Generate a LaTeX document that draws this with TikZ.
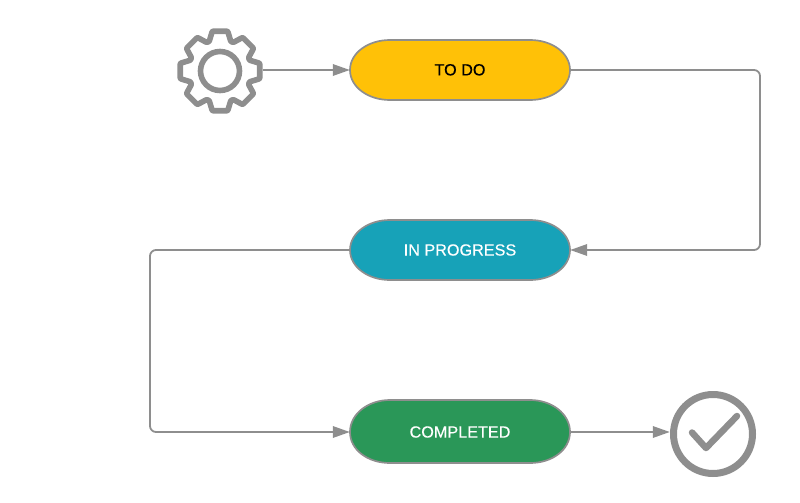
\documentclass[tikz,border=0pt]{standalone}
\usepackage{fontspec}
\setmainfont{Liberation Sans}
\newfontfamily\labelfont[FakeBold=0.25]{Liberation Sans}
\usetikzlibrary{arrows.meta}
\definecolor{linegray}{HTML}{8E8E8E}
\definecolor{todoc}{HTML}{FFC107}
\definecolor{progc}{HTML}{17A2B8}
\definecolor{donec}{HTML}{2A9758}
\tikzset{
  pillshape/.style={draw=linegray, line width=1.7pt},
  pilltext/.style={rectangle, minimum width=220pt, inner sep=0pt, font=\labelfont\fontsize{16.2}{18}\selectfont},
  conn/.style={draw=linegray, line width=1.8pt, rounded corners=6pt,
    -{Triangle[length=17pt,width=11.5pt,fill=linegray]}},
  iconline/.style={draw=linegray, line width=5.6pt, line join=round},
  iconspot/.style={circle, inner sep=0pt, minimum size=86pt}
}
\begin{document}
\begin{tikzpicture}[x=1pt,y=-1pt]
\useasboundingbox (0,0) rectangle (800,503);
\path[pillshape, fill=todoc] (350,70) .. controls (350,53) and (368,40) .. (390,40) -- (530,40)
  .. controls (552,40) and (570,53) .. (570,70) .. controls (570,87) and (552,100) .. (530,100)
  -- (390,100) .. controls (368,100) and (350,87) .. (350,70) -- cycle;
\path[pillshape, fill=progc] (350,250) .. controls (350,233) and (368,220) .. (390,220) -- (530,220)
  .. controls (552,220) and (570,233) .. (570,250) .. controls (570,267) and (552,280) .. (530,280)
  -- (390,280) .. controls (368,280) and (350,267) .. (350,250) -- cycle;
\path[pillshape, fill=donec] (350,432) .. controls (350,414) and (368,400) .. (390,400) -- (530,400)
  .. controls (552,400) and (570,414) .. (570,432) .. controls (570,450) and (552,463) .. (530,463)
  -- (390,463) .. controls (368,463) and (350,450) .. (350,432) -- cycle;
\node[pilltext, text=black, minimum height=60pt] (todo) at (460,70) {\raisebox{0.5pt}{TO DO}};
\node[pilltext, text=white, minimum height=60pt] (prog) at (460,250) {\raisebox{-0.5pt}{IN PROGRESS}};
\node[pilltext, text=white, minimum height=63pt] (done) at (460,432) {\raisebox{-0.5pt}{COMPLETED}};
\node[iconspot] (gear) at (220,71) {};
\node[iconspot] (check) at (713,434) {};
% gear
\draw[iconline, rounded corners=0.8pt, shift={(gear.center)}]
  (-20:31.5) -- (-11:40.5) -- (11:40.5) -- (20:31.5)
  -- (25:31.5) -- (34:40.5) -- (56:40.5) -- (65:31.5)
  -- (70:31.5) -- (79:40.5) -- (101:40.5) -- (110:31.5)
  -- (115:31.5) -- (124:40.5) -- (146:40.5) -- (155:31.5)
  -- (160:31.5) -- (169:40.5) -- (191:40.5) -- (200:31.5)
  -- (205:31.5) -- (214:40.5) -- (236:40.5) -- (245:31.5)
  -- (250:31.5) -- (259:40.5) -- (281:40.5) -- (290:31.5)
  -- (295:31.5) -- (304:40.5) -- (326:40.5) -- (335:31.5) -- cycle;
\draw[iconline] (gear.center) circle[radius=19.5pt];
% check
\draw[draw=linegray, line width=7pt] (check.center) circle[radius=39.5pt];
\draw[iconline, line width=6.5pt, line cap=round, shift={(check.center)}] (-21,-1.5) -- (-7,14) -- (24,-18);
% connectors
\coordinate (tr) at (760,70);
\coordinate (br) at (760,250);
\coordinate (tl) at (150,250);
\coordinate (bl) at (150,432);
\draw[conn] (gear.east |- todo.west) -- (todo.west);
\draw[conn] (todo.east) -- (tr) -- (br) -- (prog.east);
\draw[conn] (prog.west) -- (tl) -- (bl) -- (done.west);
\draw[conn] (done.east) -- (done.east -| check.west);
\end{tikzpicture}
\end{document}
